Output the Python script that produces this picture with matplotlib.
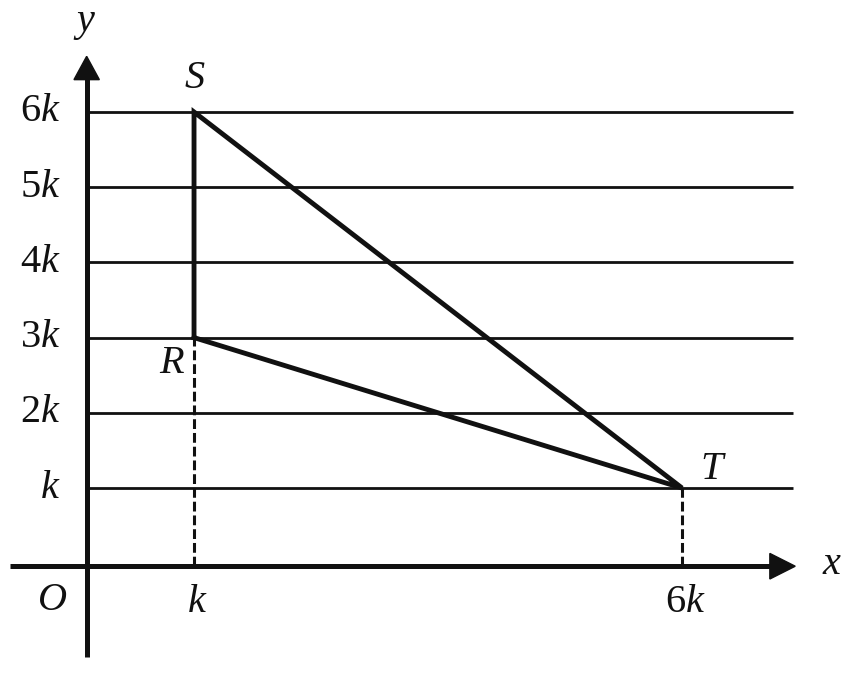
import matplotlib
matplotlib.use("Agg")
import matplotlib.pyplot as plt
from matplotlib.patches import Polygon

plt.rcParams["font.family"] = "Liberation Serif"
plt.rcParams["mathtext.fontset"] = "custom"
plt.rcParams["mathtext.rm"] = "Liberation Serif"
plt.rcParams["mathtext.it"] = "Liberation Serif:italic"

# ── Data ─────────────────────────────────────────────────────────────────────
levels = [1, 2, 3, 4, 5, 6]
level_labels = ["$k$", "2$k$", "3$k$", "4$k$", "5$k$", "6$k$"]
R = (1, 3)
S = (1, 6)
T = (6, 1)
xticks = [1, 6]
xtick_labels = ["$k$", "6$k$"]

INK = "#111111"
AX_X0 = -0.1     # where the y axis is drawn
AX_Y0 = -0.04    # where the x axis is drawn
X_END = 7.14     # right end of the guide lines
FS = 29

fig = plt.figure(figsize=(8.61, 6.77), dpi=100)
ax = fig.add_axes([0, 0, 1, 1])
ax.set_xlim(-0.988, 7.834)
ax.set_ylim(-1.513, 7.489)
ax.axis("off")

# horizontal guide lines
for lv in levels:
    ax.plot([AX_X0, X_END], [lv, lv], color=INK, lw=2.0, solid_capstyle="butt")

# dashed drops
ax.plot([R[0], R[0]], [AX_Y0, R[1]], color=INK, lw=2.2, ls=(0, (3.2, 1.3)))
ax.plot([T[0], T[0]], [AX_Y0, T[1]], color=INK, lw=2.2, ls=(0, (3.2, 1.3)))

# triangle
ax.plot([R[0], S[0], T[0], R[0]], [R[1], S[1], T[1], R[1]],
        color=INK, lw=3.5, solid_joinstyle="miter")

# axes with arrows
ax.plot([AX_X0, AX_X0], [-1.25, 6.45], color=INK, lw=3.6, solid_capstyle="butt")
ax.add_patch(Polygon([[AX_X0 - 0.13, 6.43], [AX_X0 + 0.13, 6.43], [AX_X0, 6.74]],
                     closed=True, color=INK))
ax.plot([-0.89, 6.92], [AX_Y0, AX_Y0], color=INK, lw=3.6, solid_capstyle="butt")
ax.add_patch(Polygon([[6.9, AX_Y0 - 0.17], [6.9, AX_Y0 + 0.17], [7.16, AX_Y0]],
                     closed=True, color=INK))

# labels
for lv, lab in zip(levels, level_labels):
    ax.text(-0.37, lv, lab, fontsize=FS, ha="right", va="center", color=INK)
for xv, lab in zip(xticks, xtick_labels):
    ax.text(xv + 0.03, -0.52, lab, fontsize=FS, ha="center", va="center", color=INK)

ax.text(-0.455, -0.49, "$O$", fontsize=FS, ha="center", va="center", color=INK)
ax.text(-0.117, 7.18, "$y$", fontsize=FS, ha="center", va="center", color=INK)
ax.text(7.54, -0.02, "$x$", fontsize=FS, ha="center", va="center", color=INK)
ax.text(S[0] + 0.01, S[1] + 0.44, "$S$", fontsize=FS, ha="center", va="center", color=INK)
ax.text(R[0] - 0.23, R[1] - 0.34, "$R$", fontsize=FS, ha="center", va="center", color=INK)
ax.text(T[0] + 0.32, T[1] + 0.24, "$T$", fontsize=FS, ha="center", va="center", color=INK)

fig.savefig("out.png", dpi=100)
